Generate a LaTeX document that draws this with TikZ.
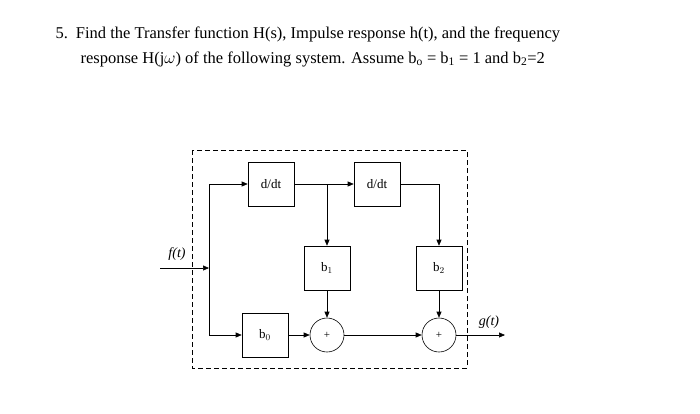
\documentclass[tikz,border=0pt]{standalone}
\usepackage{fontspec}
\setmainfont{Liberation Serif}
\usetikzlibrary{arrows.meta}
\begin{document}
\begin{tikzpicture}[x=1pt,y=-1pt,
  blk/.style={draw,line width=0.6pt,minimum width=46pt,minimum height=44pt,inner sep=0pt,font=\fontsize{13}{14}\selectfont},
  sumc/.style={draw,circle,line width=0.6pt,minimum size=34pt,inner sep=0pt,font=\fontsize{11}{12}\selectfont},
  arr/.style={line width=0.6pt,-{Triangle[length=6pt,width=5pt]}},
  ln/.style={line width=0.6pt}]
\useasboundingbox (0,0) rectangle (700,413);
\node[anchor=base west,font=\fontsize{16.5}{18}\selectfont] (t1) at (52,38) {5.\hspace{8pt}Find the Transfer function H(s), Impulse response h(t), and the frequency};
\node[anchor=base west,font=\fontsize{16.5}{18}\selectfont] (t2) at (77,63) {response H(j$\omega$) of the following system. Assume b\textsubscript{o} = b\textsubscript{1} = 1 and b\textsubscript{2}=2};
\draw[ln,dashed,dash pattern=on 5pt off 3pt] (192,150) rectangle (467,368);
\node[blk] (d1) at (271,184) {d/dt};
\node[blk] (d2) at (377,184) {d/dt};
\node[blk] (b1) at (327,268) {b$_1$};
\node[blk] (b2) at (439,268) {b$_2$};
\node[blk] (b0) at (265,335) {b$_0$};
\node[sumc] (s1) at (327,335) {+};
\node[sumc] (s2) at (439,335) {+};
\coordinate (in) at (160,268);
\coordinate (br) at (209,268);
\coordinate (j1) at (327,184);
\coordinate (out) at (505,335);
\draw[arr] (in) -- (br);
\draw[arr] (br) |- (d1.west);
\draw[arr] (br) |- (b0.west);
\draw[ln] (d1.east) -- (j1);
\draw[arr] (j1) -- (d2.west);
\draw[arr] (j1) -- (b1.north);
\draw[arr] (d2.east) -| (b2.north);
\draw[arr] (b1.south) -- (s1.north);
\draw[arr] (b2.south) -- (s2.north);
\draw[arr] (b0.east) -- (s1.west);
\draw[arr] (s1.east) -- (s2.west);
\draw[arr] (s2.east) -- (out);
\node[font=\itshape\fontsize{14}{15}\selectfont] (fl) at (177,254) {f(t)};
\node[font=\itshape\fontsize{14}{15}\selectfont] (gl) at (489,322) {g(t)};
\end{tikzpicture}
\end{document}
